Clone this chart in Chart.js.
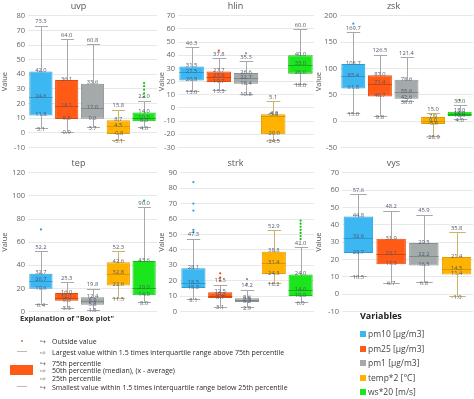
<!DOCTYPE html>
<html>
<head>
<meta charset="utf-8">
<script src="https://cdn.jsdelivr.net/npm/chart.js@4.4.1/dist/chart.umd.min.js"></script>
<style>
  body { margin: 0; background: #fff; width: 474px; height: 399px; position: relative; overflow: hidden; font-family: "Open Sans", sans-serif; color: #333; }
  canvas { position: absolute; }
  .expl { position: absolute; left: 0; top: 310px; width: 320px; height: 89px; font-size: 7px; }
  .expl .head { position: absolute; left: 20px; top: 3px; font-weight: bold; font-size: 7.5px; }
  .expl .row { position: absolute; left: 40px; white-space: nowrap; line-height: 9px; color: #2a2a2a; }
  .expl .arr { display: inline-block; width: 12px; font-family: "DejaVu Sans"; font-size: 7px; color: #666; }
  .vars { position: absolute; left: 360px; top: 309px; font-size: 8.5px; color: #444; }
  .vars .head { font-weight: bold; font-size: 9px; color: #222; margin-bottom: 5px; }
  .vars .item { height: 14.5px; line-height: 14.5px; white-space: nowrap; }
  .vars .sw { display: inline-block; width: 6px; height: 6px; margin-right: 2px; vertical-align: 0; }
</style>
</head>
<body>
<canvas id="c1" width="158" height="155" style="left:0;top:0"></canvas>
<canvas id="c2" width="158" height="155" style="left:157px;top:0"></canvas>
<canvas id="c3" width="160" height="155" style="left:314px;top:0"></canvas>
<canvas id="c4" width="158" height="162" style="left:0;top:157px"></canvas>
<canvas id="c5" width="158" height="162" style="left:157px;top:157px"></canvas>
<canvas id="c6" width="160" height="162" style="left:314px;top:157px"></canvas>

<div class="expl">
  <div class="head">Explanation of "Box plot"</div>
  <div class="row" style="top:27px"><span class="arr">↪</span>Outside value</div>
  <div class="row" style="top:38px"><span class="arr">⇨</span>Largest value within 1.5 times interquartile range above 75th percentile</div>
  <div class="row" style="top:49px"><span class="arr">↪</span>75th percentile</div>
  <div class="row" style="top:56px"><span class="arr">⇨</span>50th percentile (median), (x - average)</div>
  <div class="row" style="top:64px"><span class="arr">⇨</span>25th percentile</div>
  <div class="row" style="top:73px"><span class="arr">↪</span>Smallest value within 1.5 times interquartile range below 25th percentile</div>
  <div style="position:absolute;left:21px;top:30px;width:2px;height:2px;background:#e07030;border-radius:1px"></div>
  <div style="position:absolute;left:17px;top:41px;width:10px;height:1px;background:#bbb"></div>
  <div style="position:absolute;left:10px;top:55px;width:23px;height:10px;background:#ff5b17"></div>
  <div style="position:absolute;left:17px;top:76px;width:10px;height:1px;background:#bbb"></div>
</div>

<div class="vars" id="vars">
  <div class="head">Variables</div>
</div>

<script>
// ---- datos ----
const variables = ["pm10 [µg/m3]", "pm25 [µg/m3]", "pm1 [µg/m3]", "temp*2 [°C]", "ws*20 [m/s]"];

// uvp
const uvpLow = [3.1, 0.9, 3.7, -5.1, 4.0];
const uvpQ1 = [11.8, 9.5, 9.6, -0.8, 8.0];
const uvpMedian = [24.6, 18.1, 17.0, 4.5, 10.0];
const uvpQ3 = [42.0, 36.1, 33.6, 8.7, 14.0];
const uvpHigh = [73.3, 64.0, 60.8, 15.8, 22.0];
const uvpOutliers = [[], [], [], [], [24.6, 27.0, 29.5, 32.0, 34.0]];
const uvpAxis = [-10, 80, 10];

// hlin
const hlinLow = [13.0, 13.3, 10.8, -24.5, 18.0];
const hlinQ1 = [20.8, 19.7, 18.4, -20.0, 26.0];
const hlinMedian = [27.5, 23.9, 22.7, -5.8, 33.0];
const hlinQ3 = [31.5, 27.7, 26.6, -4.8, 40.0];
const hlinHigh = [46.3, 37.8, 35.3, 5.1, 60.0];
const hlinOutliers = [[], [43.5], [41.5], [], []];
const hlinAxis = [-30, 70, 10];

// zsk
const zskLow = [15.0, 9.8, 38.0, -28.9, 4.0];
const zskQ1 = [61.8, 46.7, 42.6, -5.6, 10.0];
const zskMedian = [85.4, 71.4, 55.6, 0.0, 14.0];
const zskQ3 = [108.7, 87.0, 78.6, 7.9, 18.0];
const zskHigh = [169.7, 126.5, 121.4, 15.0, 30.0];
const zskOutliers = [[185.0], [], [], [], [40.0]];
const zskAxis = [-50, 200, 50];

// tep
const tepLow = [6.4, 3.3, 1.5, 11.5, 8.0];
const tepQ1 = [19.6, 9.3, 5.8, 22.6, 14.0];
const tepMedian = [26.7, 12.1, 8.9, 32.8, 20.0];
const tepQ3 = [32.7, 16.0, 12.4, 42.6, 43.6];
const tepHigh = [52.2, 25.3, 19.8, 52.3, 90.0];
const tepOutliers = [[71.0], [], [], [], [96.0]];
const tepAxis = [0, 120, 20];

// strk
const strkLow = [8.1, 3.1, 2.9, 18.2, 6.0];
const strkQ1 = [15.3, 8.7, 6.2, 24.3, 10.0];
const strkMedian = [18.5, 10.3, 7.5, 31.4, 14.0];
const strkQ3 = [28.1, 12.5, 8.6, 38.8, 24.0];
const strkHigh = [47.3, 17.5, 14.2, 52.9, 42.0];
const strkOutliers = [[51.5, 53.0, 65.5, 70.0, 84.0], [20.0, 22.0, 24.8], [18.0, 21.0], [], [47.0, 49.0, 51.0, 53.0, 55.0, 57.0, 59.0]];
const strkAxis = [0, 90, 10];

// vys (sin ws)
const vysLow = [10.5, 6.7, 6.8, -1.0];
const vysQ1 = [23.7, 17.3, 16.5, 11.4];
const vysMedian = [32.6, 23.1, 22.2, 14.5];
const vysQ3 = [44.8, 31.9, 29.5, 21.4];
const vysHigh = [57.6, 48.2, 45.9, 35.8];
const vysOutliers = [[], [], [], []];
const vysAxis = [-10, 70, 10];

// ---- colores ----
const boxColors = ["#3db7f2", "#ff5b17", "#a3aaa9", "#ffb300", "#1be61b"];
const borderColors = ["#2a9fd6", "#e14a0e", "#8b9291", "#e09d00", "#12c012"];
const medianColors = ["#2a8fc4", "#c84008", "#7a8281", "#d09000", "#0ea80e"];
const whiskerColors = ["#a8a8a8", "#a8a8a8", "#a8a8a8", "#c9b46a", "#a8a8a8"];
const labelColor = "#4e5870";

// ---- plugin: bigotes, medianas, atípicos y etiquetas ----
const boxParts = {
  id: "boxParts",
  beforeDatasetsDraw(chart, args, opts) {
    const ctx = chart.ctx;
    const y = chart.scales.y;
    const meta = chart.getDatasetMeta(0);
    ctx.save();
    meta.data.forEach((bar, i) => {
      const x = Math.round(bar.x) + 0.5;
      const cap = bar.width * 0.28;
      const yl = Math.round(y.getPixelForValue(opts.low[i])) + 0.5;
      const yh = Math.round(y.getPixelForValue(opts.high[i])) + 0.5;
      ctx.strokeStyle = whiskerColors[i];
      ctx.lineWidth = 1;
      ctx.beginPath();
      ctx.moveTo(x, yl); ctx.lineTo(x, yh);
      ctx.moveTo(x - cap, yl); ctx.lineTo(x + cap, yl);
      ctx.moveTo(x - cap, yh); ctx.lineTo(x + cap, yh);
      ctx.stroke();
    });
    ctx.restore();
  },
  afterDatasetsDraw(chart, args, opts) {
    const ctx = chart.ctx;
    const y = chart.scales.y;
    const meta = chart.getDatasetMeta(0);
    ctx.save();
    meta.data.forEach((bar, i) => {
      const x = bar.x;
      const half = bar.width / 2;
      const ym = Math.round(y.getPixelForValue(opts.median[i])) + 0.5;
      ctx.strokeStyle = medianColors[i];
      ctx.lineWidth = 0.8;
      ctx.beginPath();
      ctx.moveTo(x - half, ym); ctx.lineTo(x + half, ym);
      ctx.stroke();

      ctx.fillStyle = borderColors[i];
      opts.outliers[i].forEach(v => {
        ctx.beginPath();
        ctx.arc(x, y.getPixelForValue(v), 1.1, 0, Math.PI * 2);
        ctx.fill();
      });

      ctx.font = "5.8px 'Open Sans'";
      ctx.fillStyle = labelColor;
      ctx.textAlign = "center";
      ctx.textBaseline = "bottom";
      ctx.fillText(opts.high[i].toFixed(1), x, y.getPixelForValue(opts.high[i]) - 1);
      ctx.fillText(opts.q3[i].toFixed(1), x, y.getPixelForValue(opts.q3[i]) + 2);
      ctx.fillText(opts.median[i].toFixed(1), x, y.getPixelForValue(opts.median[i]) + 2);
      ctx.fillText(opts.q1[i].toFixed(1), x, y.getPixelForValue(opts.q1[i]) + 2);
      ctx.textBaseline = "middle";
      ctx.fillText(opts.low[i].toFixed(1), x, y.getPixelForValue(opts.low[i]) + 1);
    });
    ctx.restore();
  }
};

function makePanel(id, title, low, q1, median, q3, high, outliers, axis, yWidth) {
  const n = q1.length;
  const cats = variables.slice(0, n);
  new Chart(document.getElementById(id), {
    type: "bar",
    data: {
      labels: cats,
      datasets: [{
        data: q1.map((v, i) => [v, q3[i]]),
        backgroundColor: boxColors.slice(0, n),
        borderColor: borderColors.slice(0, n),
        borderWidth: 1,
        borderSkipped: false,
        barPercentage: 0.9,
        categoryPercentage: 1
      }]
    },
    options: {
      responsive: false,
      animation: false,
      layout: { padding: { right: 1, left: 0, top: 0, bottom: 0 } },
      plugins: {
        legend: { display: false },
        tooltip: { enabled: false },
        title: {
          display: true, text: title, color: "#555",
          font: { family: "Open Sans", size: 9, weight: "normal" },
          padding: { top: 1, bottom: 4 }
        },
        boxParts: { low, q1, median, q3, high, outliers }
      },
      scales: {
        x: { display: false },
        y: {
          min: axis[0], max: axis[1],
          ticks: { stepSize: axis[2], color: "#666", font: { family: "Open Sans", size: 7.5 }, padding: 3 },
          grid: { color: "#e8e8e8", drawTicks: false },
          border: { display: false },
          title: { display: true, text: "Value", color: "#555", font: { family: "Open Sans", size: 7.5 }, padding: 0 },
          afterFit(s) { s.width = yWidth; }
        }
      }
    },
    plugins: [boxParts]
  });
}

makePanel("c1", "uvp", uvpLow, uvpQ1, uvpMedian, uvpQ3, uvpHigh, uvpOutliers, uvpAxis, 28);
makePanel("c2", "hlin", hlinLow, hlinQ1, hlinMedian, hlinQ3, hlinHigh, hlinOutliers, hlinAxis, 21);
makePanel("c3", "zsk", zskLow, zskQ1, zskMedian, zskQ3, zskHigh, zskOutliers, zskAxis, 26);
makePanel("c4", "tep", tepLow, tepQ1, tepMedian, tepQ3, tepHigh, tepOutliers, tepAxis, 28);
makePanel("c5", "strk", strkLow, strkQ1, strkMedian, strkQ3, strkHigh, strkOutliers, strkAxis, 23);
makePanel("c6", "vys", vysLow, vysQ1, vysMedian, vysQ3, vysHigh, vysOutliers, vysAxis, 28);

// leyenda de variables
const varsEl = document.getElementById("vars");
variables.forEach((name, i) => {
  const d = document.createElement("div");
  d.className = "item";
  d.innerHTML = `<span class="sw" style="background:${boxColors[i]}"></span>${name}`;
  varsEl.appendChild(d);
});
</script>
</body>
</html>
